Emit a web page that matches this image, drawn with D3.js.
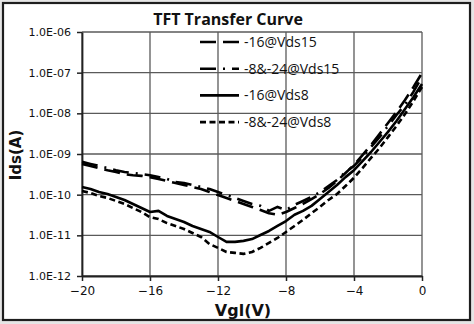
<!DOCTYPE html>
<html>
<head>
<meta charset="utf-8">
<script src="https://cdn.jsdelivr.net/npm/d3@7/dist/d3.min.js"></script>
<style>
  html, body { margin: 0; padding: 0; background: #e6e6e6; }
  svg { display: block; }
</style>
</head>
<body>
<svg id="chart" width="474" height="324"></svg>
<script>
// Gate voltage sweep (V)
const vgl = [-20, -19.5, -19, -18.5, -18, -17.5, -17, -16.5, -16, -15.5, -15, -14.5, -14, -13.5,
  -13, -12.5, -12, -11.5, -11, -10.5, -10, -9.5, -9, -8.5, -8, -7.5, -7, -6.5, -6, -5.5, -5,
  -4.5, -4, -3.5, -3, -2.5, -2, -1.5, -1, -0.5, 0];

// Drain current Ids (A) for each condition
const ids16Vds15 = [5.7e-10, 5.1e-10, 4.5e-10, 4.0e-10, 3.6e-10, 3.2e-10, 3.0e-10, 2.9e-10, 2.7e-10,
  2.43e-10, 2.17e-10, 1.94e-10, 1.73e-10, 1.54e-10, 1.38e-10, 1.16e-10, 9.8e-11, 8.3e-11, 7.0e-11,
  5.9e-11, 5.0e-11, 4.2e-11, 3.5e-11, 3.2e-11, 3.75e-11, 4.7e-11, 5.9e-11, 7.8e-11, 1.04e-10,
  1.46e-10, 2.17e-10, 3.4e-10, 5.4e-10, 9.4e-10, 1.66e-9, 3.1e-9, 5.8e-9, 1.08e-8, 2.13e-8,
  4.44e-8, 9.8e-8];
const ids8n24Vds15 = [6.4e-10, 5.7e-10, 5.1e-10, 4.5e-10, 4.0e-10, 3.6e-10, 3.4e-10, 3.2e-10, 3.0e-10,
  2.7e-10, 2.43e-10, 2.05e-10, 1.94e-10, 1.73e-10, 1.54e-10, 1.38e-10, 1.16e-10, 9.8e-11, 8.3e-11,
  7.0e-11, 5.9e-11, 5.3e-11, 4.0e-11, 5.0e-11, 4.2e-11, 5.6e-11, 7.0e-11, 8.8e-11, 1.16e-10,
  1.63e-10, 2.3e-10, 3.6e-10, 5.1e-10, 8.4e-10, 1.49e-9, 2.6e-9, 4.9e-9, 9.1e-9, 1.63e-8,
  3.4e-8, 7.8e-8];
const ids16Vds8 = [1.54e-10, 1.38e-10, 1.16e-10, 1.04e-10, 8.8e-11, 7.4e-11, 5.9e-11, 4.7e-11, 3.75e-11,
  4.0e-11, 3.0e-11, 2.52e-11, 2.13e-11, 1.7e-11, 1.43e-11, 1.21e-11, 9.1e-12, 6.9e-12, 6.9e-12,
  7.3e-12, 8.1e-12, 1.02e-11, 1.28e-11, 1.7e-11, 2.25e-11, 3.2e-11, 4.0e-11, 5.3e-11, 7.8e-11,
  1.16e-10, 1.73e-10, 2.7e-10, 4.0e-10, 6.7e-10, 1.12e-9, 1.97e-9, 3.5e-9, 6.5e-9, 1.28e-8,
  2.52e-8, 5.26e-8];
const ids8n24Vds8 = [1.23e-10, 1.10e-10, 9.3e-11, 8.3e-11, 7.0e-11, 5.9e-11, 4.7e-11, 3.75e-11, 2.8e-11,
  2.52e-11, 2.0e-11, 1.7e-11, 1.43e-11, 1.14e-11, 9.1e-12, 6.1e-12, 4.9e-12, 3.9e-12, 3.7e-12,
  3.5e-12, 3.9e-12, 4.9e-12, 6.5e-12, 8.6e-12, 1.21e-11, 1.7e-11, 2.4e-11, 3.5e-11, 5.0e-11,
  7.4e-11, 1.04e-10, 1.63e-10, 2.6e-10, 4.5e-10, 8.0e-10, 1.40e-9, 2.6e-9, 4.9e-9, 9.6e-9,
  2.01e-8, 4.44e-8];

const seriesNames = ["-16@Vds15", "-8&-24@Vds15", "-16@Vds8", "-8&-24@Vds8"];
const seriesValues = [ids16Vds15, ids8n24Vds15, ids16Vds8, ids8n24Vds8];
const seriesDash = ["16,7", "16,7,2,7", null, "6,3.5"];

const xTicks = [-20, -16, -12, -8, -4, 0];
const yTicks = [1e-12, 1e-11, 1e-10, 1e-9, 1e-8, 1e-7, 1e-6];

const svg = d3.select("#chart");
const plot = { left: 82, right: 422, top: 32, bottom: 276 };

// white card with dark frame
svg.append("rect").attr("x", 3).attr("y", 3).attr("width", 467).attr("height", 317)
  .attr("fill", "#fff").attr("stroke", "#1e1e1e").attr("stroke-width", 2.2);

const x = d3.scaleLinear().domain([-20, 0]).range([plot.left, plot.right]);
const y = d3.scaleLog().domain([1e-12, 1e-6]).range([plot.bottom, plot.top]);

// grid
const grid = svg.append("g").attr("stroke", "#5a5a5a").attr("stroke-width", 1.3);
grid.selectAll("line.h").data(yTicks).join("line")
  .attr("x1", plot.left).attr("x2", plot.right)
  .attr("y1", d => y(d)).attr("y2", d => y(d));
grid.selectAll("line.v").data(xTicks).join("line")
  .attr("y1", plot.top).attr("y2", plot.bottom)
  .attr("x1", d => x(d)).attr("x2", d => x(d));

// axes
const fmtY = d => {
  const e = Math.round(Math.log10(d));
  return "1.0E" + (e < 0 ? "-" : "+") + String(Math.abs(e)).padStart(2, "0");
};
const fmtX = d => d < 0 ? "\u2212" + Math.abs(d) : String(d);

const yAxis = svg.append("g").attr("transform", `translate(${plot.left},0)`)
  .call(d3.axisLeft(y).tickValues(yTicks).tickFormat(fmtY).tickSizeInner(5).tickSizeOuter(0).tickPadding(6));
const xAxis = svg.append("g").attr("transform", `translate(0,${plot.bottom})`)
  .call(d3.axisBottom(x).tickValues(xTicks).tickFormat(fmtX).tickSizeInner(5).tickSizeOuter(0).tickPadding(5));

[yAxis, xAxis].forEach(a => {
  a.select(".domain").attr("stroke", "#222").attr("stroke-width", 1.8);
  a.selectAll(".tick line").attr("stroke", "#222").attr("stroke-width", 1.5);
  a.selectAll(".tick text").attr("fill", "#111")
    .style("font-family", "'DejaVu Sans', Verdana, sans-serif").style("font-size", "11px");
});
xAxis.selectAll(".tick text").style("font-size", "12px");

// curves
const line = d3.line().x(d => x(d[0])).y(d => y(d[1]));
seriesValues.forEach((vals, i) => {
  const pts = vgl.map((v, k) => [v, vals[k]]);
  svg.append("path").datum(pts)
    .attr("d", line)
    .attr("fill", "none")
    .attr("stroke", "#000")
    .attr("stroke-width", 2.6)
    .attr("stroke-linejoin", "round")
    .attr("stroke-dasharray", seriesDash[i]);
});

// legend
const legend = svg.append("g").attr("transform", "translate(200,42)");
seriesNames.forEach((name, i) => {
  const g = legend.append("g").attr("transform", `translate(0,${i * 26.7})`);
  g.append("line").attr("x1", 0).attr("x2", 39).attr("y1", 0).attr("y2", 0)
    .attr("stroke", "#000").attr("stroke-width", 2.6)
    .attr("stroke-dasharray", seriesDash[i]);
  g.append("text").attr("x", 44).attr("y", 5)
    .style("font-family", "'Open Sans', sans-serif").style("font-size", "14px")
    .attr("fill", "#111").text(name);
});

// titles
svg.append("text").attr("x", 228).attr("y", 25).attr("text-anchor", "middle")
  .style("font-family", "'Open Sans', sans-serif").style("font-size", "16px").style("font-weight", "bold")
  .attr("fill", "#111").text("TFT Transfer Curve");
svg.append("text").attr("x", 243).attr("y", 316).attr("text-anchor", "middle")
  .style("font-family", "'DejaVu Sans', Verdana, sans-serif").style("font-size", "16px").style("font-weight", "bold")
  .attr("fill", "#111").text("Vgl(V)");
svg.append("text").attr("transform", "translate(21,155) rotate(-90)").attr("text-anchor", "middle")
  .style("font-family", "'DejaVu Sans', Verdana, sans-serif").style("font-size", "15px").style("font-weight", "bold")
  .attr("fill", "#111").text("Ids(A)");
</script>
</body>
</html>
